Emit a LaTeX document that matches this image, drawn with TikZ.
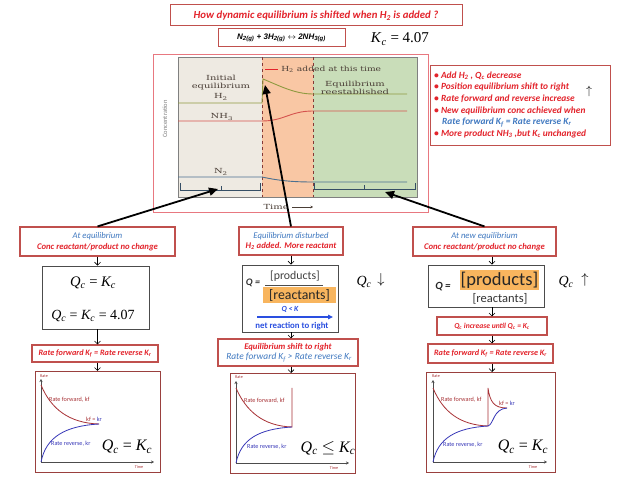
\documentclass[tikz,border=0pt]{standalone}
\usepackage{fontspec}
\setmainfont{Carlito}
\newfontfamily\tnr{Liberation Serif}
\newfontfamily\arl{Liberation Sans}
\newfontfamily\dvs{DejaVu Serif}
\usetikzlibrary{arrows.meta}
\definecolor{bred}{HTML}{C0504D}
\definecolor{tred}{HTML}{E3232B}
\definecolor{tblue}{HTML}{3F78C0}
\definecolor{qblue}{HTML}{2A4FE0}
\definecolor{hl}{HTML}{F8B55E}
\definecolor{beige}{HTML}{EEEAE2}
\definecolor{peach}{HTML}{F9C7A4}
\definecolor{sage}{HTML}{C9DDB9}
\definecolor{pframe}{HTML}{E87880}
\definecolor{h2c}{HTML}{8E9A40}
\definecolor{nh3c}{HTML}{D5534E}
\definecolor{n2c}{HTML}{4C7090}
\definecolor{gtxt}{HTML}{4A3E36}
\definecolor{kfc}{HTML}{A83236}
\definecolor{krc}{HTML}{3838B8}
\newcommand\fsz[2]{\fontsize{#1}{#2}\selectfont}
\newcommand\QeqK{Q\textsubscript{c} {\upshape =} K\textsubscript{c}}
\begin{document}
\begin{tikzpicture}[x=1pt,y=-1pt,
 rbox/.style={draw=bred, line width=1.1pt, fill=white, align=center, inner sep=1pt, font=\bfseries\itshape\fsz{8.7}{10.8}},
 sbox/.style={draw=bred, line width=1.1pt, fill=white, align=center, inner sep=1pt, text=tred, font=\bfseries\itshape\fsz{8.2}{9}},
 kbox/.style={draw=black!70, line width=0.8pt, fill=white, inner sep=0pt},
 flow/.style={-{Straight Barb[length=3pt,width=6pt]}, line width=0.6pt},
 bigarr/.style={-{Triangle[length=9pt,width=8pt]}, line width=1.8pt},
 gbox/.style={draw=bred!80!black, line width=1pt, fill=white, inner sep=0pt, anchor=north west},
 axisl/.style={draw=black!70, line width=0.6pt, -{Stealth[length=3pt,width=3pt]}},
 tinyl/.style={font=\fsz{4.2}{4}, inner sep=0pt},
 lab/.style={font=\fsz{6.2}{6}, inner sep=0pt},
 fwd/.style={draw=kfc, line width=0.8pt},
 rev/.style={draw=krc, line width=0.8pt},
 qk/.style={font=\tnr\itshape\fsz{16}{16}, inner sep=0pt},
 chl/.style={font=\dvs\fsz{7}{8}, text=gtxt, align=center, inner sep=0pt, xscale=1.42},
]
\useasboundingbox (0,0) rectangle (638,478);
\fill[white] (0,0) rectangle (638,478);

% ---- title area
\node[draw=bred, line width=1pt, minimum width=292pt, minimum height=21pt, text=tred, font=\bfseries\itshape\fsz{10.8}{12}] (title) at (316,15.5) {How dynamic equilibrium is shifted when H\textsubscript{2} is added ?};
\node[draw=bred, line width=1pt, minimum width=127pt, minimum height=18pt, font=\arl\bfseries\itshape\fsz{8}{10}] (eqn) at (281.5,38) {N\textsubscript{2(g)} + 3H\textsubscript{2(g)} $\leftrightarrow$ 2NH\textsubscript{3(g)}};
\node[font=\tnr\fsz{15}{17}] (kc) at (400,39) {\textit{K}\textsubscript{\textit{c}} = 4.07};

% ---- concentration chart
\draw[pframe, line width=1pt, fill=white] (153,55) rectangle (428,213);
\fill[beige] (178,57) rectangle (262,197);
\fill[peach] (262,57) rectangle (313,197);
\fill[sage] (313,57) rectangle (417,197);
\draw[gray, line width=0.6pt] (178,57) rectangle (417,197);
\draw[bred!70!black, dashed, line width=0.6pt] (262,57) -- (262,197) (313,57) -- (313,197);
\draw[h2c, line width=0.9pt] (178,103) -- (262,103) -- (263,79) .. controls (280,86) and (295,94) .. (313,94) -- (407,94);
\draw[nh3c, line width=0.9pt] (178,121) -- (262,121) .. controls (284,121) and (290,111) .. (313,111) -- (407,111);
\draw[n2c, line width=0.9pt] (178,177) -- (262,177) .. controls (280,181) and (295,182) .. (313,182) -- (407,182);
\node[chl] (init) at (221,82.5) {Initial\\equilibrium};
\node[chl] (lh2) at (221,97) {H\textsubscript{2}};
\node[chl] (lnh3) at (222,117) {NH\textsubscript{3}};
\node[chl] (ln2) at (221,172) {N\textsubscript{2}};
\draw[tred, line width=0.6pt] (265,69) -- (278,69);
\node[chl, anchor=west, xscale=0.92] (added) at (281,69) {H\textsubscript{2} added at this time};
\node[chl] (reest) at (355,87.5) {Equilibrium\\reestablished};
\node[font=\fsz{6.5}{7}, text=gray, rotate=90, inner sep=0pt] (conc) at (165,119) {Concentration};
\node[chl, anchor=east] (time) at (289,207) {Time};
\draw[gtxt, line width=0.5pt, -{Stealth[length=2.5pt,width=2.5pt]}] (292,207) -- (313,207);
\draw[n2c!70!black, line width=0.6pt] (180,183) -- (180,190) -- (260,190) -- (260,183) (221,190) -- (221,186);
\draw[n2c!70!black, line width=0.6pt] (314,183) -- (314,189) -- (415,189) -- (415,183) (364,189) -- (364,185);

% ---- bullet box
\node[draw=bred, line width=1pt, minimum width=180pt, minimum height=80pt, anchor=north west, fill=white] (bul) at (430,65) {};
\node[anchor=north west, align=left, font=\bfseries\itshape\fsz{9.4}{11.6}, text=tred, inner sep=0pt] (bultxt) at (434,71.5) {%
• Add H\textsubscript{2} , Q\textsubscript{c} decrease\\
• Position equilibrium shift to right\\
• Rate forward and reverse increase\\
• New equilibrium conc achieved when\\
\hspace*{8pt}\textcolor{tblue}{Rate forward K\textsubscript{f} = Rate reverse K\textsubscript{r}}\\
• More product NH\textsubscript{3} ,but K\textsubscript{c} unchanged};
\node[font=\fsz{13}{13}, inner sep=0pt] (upa) at (589,92) {$\uparrow$};

% ---- left column
\node[rbox, minimum width=155pt, minimum height=29pt] (L1) at (97.5,241.5) {\textcolor{tblue}{\mdseries At equilibrium}\\\textcolor{tred}{Conc reactant/product no change}};
\node[kbox, minimum width=107pt, minimum height=63pt] (L2) at (95.5,297.5) {};
\node[qk, font=\tnr\itshape\fsz{14.6}{15}] (L2a) at (93,283) {\QeqK};
\node[qk, font=\tnr\itshape\fsz{14}{15}] (L2b) at (93,316) {\QeqK{} {\upshape = 4.07}};
\node[sbox, minimum width=126pt, minimum height=17pt] (L3) at (95,353.5) {Rate forward K\textsubscript{f} = Rate reverse K\textsubscript{r}};
\node[gbox, minimum width=125pt, minimum height=101pt] (GL) at (35,371) {};
\begin{scope}[shift={(35,371)}]
 \draw[axisl] (6,91) -- (6,8);
 \draw[axisl] (6,91) -- (119,91);
 \node[tinyl, text=kfc] (lrate) at (9,5) {Rate};
 \node[tinyl, text=kfc] (ltime) at (104,96) {Time};
 \draw[fwd] (6,14) .. controls (16,38) and (34,52) .. (64,53);
 \draw[rev] (6,91) .. controls (11,66) and (30,55) .. (64,53);
 \node[lab, text=kfc, anchor=west] (lfw) at (14,29) {Rate forward, kf};
 \node[lab, anchor=west] (leq) at (51,48) {\textcolor{kfc}{kf =}\ \textcolor{krc}{kr}};
 \node[lab, text=krc, anchor=west] (lrv) at (16,73) {Rate reverse, kr};
 \node[qk] (lqk) at (92,76) {\QeqK};
\end{scope}

% ---- centre column
\node[rbox, minimum width=104pt, minimum height=28pt] (C1) at (291,241) {\textcolor{tblue}{\mdseries Equilibrium disturbed}\\\textcolor{tred}{H\textsubscript{2} added. More reactant}};
\node[kbox, minimum width=96pt, minimum height=67pt] (C2) at (290,298.5) {};
\node[font=\bfseries\itshape\fsz{10}{10}, text=black!80, inner sep=0pt] (cq) at (253,283) {Q =};
\node[font=\fsz{11.8}{12}, text=black!75, inner sep=0pt] (cp) at (295,276) {[products]};
\draw[black!70, line width=0.6pt] (265,285) -- (323,285);
\fill[hl] (263,287.5) rectangle (336,303);
\node[font=\fsz{13.8}{14}, text=black!85, inner sep=0pt] (cr) at (299.5,295.5) {[reactants]};
\node[font=\bfseries\itshape\fsz{7.8}{8}, text=qblue, inner sep=0pt] (cqk) at (290,309) {Q < K};
\draw[qblue, line width=1.2pt, -{Triangle[length=5pt,width=4.5pt]}] (257,317) -- (333,317);
\node[font=\bfseries\fsz{8.8}{9}, text=qblue, inner sep=0pt] (cnet) at (292,326) {net reaction to right};
\node[font=\tnr\itshape\fsz{14}{14}, inner sep=0pt] (cqc) at (364,282) {Q\textsubscript{c}};
\node[font=\fsz{14}{14}, inner sep=0pt] (cdn) at (381,280) {$\downarrow$};
\node[rbox, minimum width=140pt, minimum height=27pt] (C3) at (288,352.5) {\textcolor{tred}{Equilibrium shift to right}\\\textcolor{tblue}{\mdseries\fsz{9.4}{10} Rate forward K\textsubscript{f} > Rate reverse K\textsubscript{r}}};
\node[gbox, minimum width=125pt, minimum height=100pt] (GC) at (230,373) {};
\begin{scope}[shift={(230,373)}]
 \draw[axisl] (6,90) -- (6,8);
 \draw[axisl] (6,90) -- (119,90);
 \node[tinyl, text=kfc] (crate) at (9,4) {Rate};
 \node[tinyl, text=kfc] (ctime) at (104,95) {Time};
 \draw[fwd] (6,15) .. controls (16,38) and (33,53) .. (62,54) -- (62,15);
 \draw[rev] (6,90) .. controls (11,66) and (29,56) .. (62,54);
 \node[lab, text=kfc, anchor=west] (cfw) at (14,28) {Rate forward, kf};
 \node[lab, text=krc, anchor=west] (crv) at (17,74) {Rate reverse, kr};
 \node[qk] (cqk2) at (98,75) {Q\textsubscript{c} $\leq$ K\textsubscript{c}};
\end{scope}

% ---- right column
\node[rbox, minimum width=143pt, minimum height=29pt] (R1) at (484.5,241.5) {\textcolor{tblue}{\mdseries At new equilibrium}\\\textcolor{tred}{Conc reactant/product no change}};
\node[kbox, minimum width=116pt, minimum height=42pt] (R2) at (486,286) {};
\node[font=\bfseries\itshape\fsz{11}{11}, text=black!85, inner sep=0pt] (rq) at (443,287) {Q =};
\fill[hl] (460,270) rectangle (539,290);
\node[font=\fsz{18.5}{18}, text=black!85, inner sep=0pt] (rp) at (499.5,280) {[products]};
\node[font=\fsz{12.5}{12}, text=black!80, inner sep=0pt] (rr) at (500,298.5) {[reactants]};
\node[font=\tnr\itshape\fsz{14}{14}, inner sep=0pt] (rqc) at (566,282) {Q\textsubscript{c}};
\node[font=\fsz{14}{14}, inner sep=0pt] (rup) at (585,280) {$\uparrow$};
\node[sbox, minimum width=110pt, minimum height=18pt, font=\bfseries\itshape\fsz{7.6}{9}] (R3) at (492,326) {Q\textsubscript{c} increase until Q\textsubscript{c} = K\textsubscript{c}};
\node[sbox, minimum width=125pt, minimum height=19pt] (R4) at (490.5,353.5) {Rate forward K\textsubscript{f} = Rate reverse K\textsubscript{r}};
\node[gbox, minimum width=129pt, minimum height=100pt] (GR) at (426,372) {};
\begin{scope}[shift={(426,372)}]
 \draw[axisl] (7,90) -- (7,8);
 \draw[axisl] (7,90) -- (121,90);
 \node[tinyl, text=kfc] (rrate) at (10,4) {Rate};
 \node[tinyl, text=kfc] (rtime) at (107,95) {Time};
 \draw[fwd] (7,16) .. controls (17,40) and (34,53) .. (62,54) -- (62,16) .. controls (64,30) and (68,36) .. (81,36);
 \draw[rev] (7,90) .. controls (12,66) and (30,56) .. (62,54) .. controls (68,52) and (67,37) .. (81,36);
 \node[lab, text=kfc, anchor=west] (rfw) at (15,28) {Rate forward, kf};
 \node[lab, anchor=west] (req) at (73,31) {\textcolor{kfc}{kf =}\ \textcolor{krc}{kr}};
 \node[lab, text=krc, anchor=west] (rrv) at (17,73) {Rate reverse, kr};
 \node[qk] (rqk) at (97,75) {\QeqK};
\end{scope}

% ---- flow connectors
\draw[flow] (L1.south) -- (L1.south |- L2.north);
\draw[flow] (L2.south -| L1.south) -- (L3.north -| L1.south);
\draw[flow] (L3.south -| L1.south) -- (GL.north -| L1.south);
\draw[flow] (C1.south) -- (C1.south |- C2.north);
\draw[flow] (C2.south -| C1.south) -- (C3.north -| C1.south);
\draw[flow] (C3.south -| C1.south) -- (GC.north -| C1.south);
\draw[flow] (R1.south -| R3) -- (R2.north -| R3);
\draw[flow] (R2.south -| R3) -- (R3.north);
\draw[flow] (R3.south) -- (R4.north -| R3);
\draw[flow] (R4.south -| R3) -- (GR.north -| R3);

% ---- big arrows into the chart
\coordinate (bl) at (218,189);
\coordinate (hj) at (265,85);
\coordinate (br) at (385,192);
\draw[bigarr] (L1.north) -- (bl);
\draw[bigarr] (C1.north) -- (hj);
\draw[bigarr] (R1.north) -- (br);
\end{tikzpicture}
\end{document}
